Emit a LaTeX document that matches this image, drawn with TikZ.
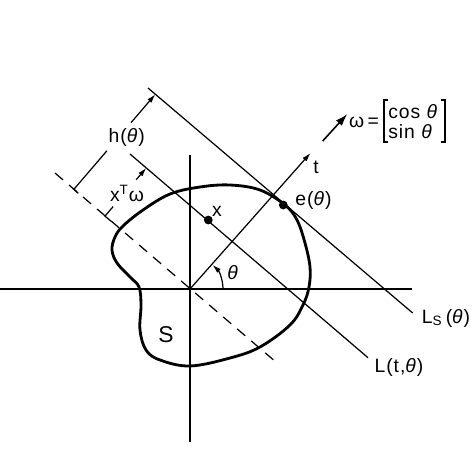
\documentclass[tikz,border=0pt]{standalone}
\usepackage{fontspec}
\setmainfont[LetterSpace=5]{Liberation Sans}
\usetikzlibrary{arrows.meta}
\tikzset{
  thin line/.style={line width=0.7pt},
  body/.style={line width=1.6pt, line join=round},
  dashline/.style={line width=0.7pt, dash pattern=on 6pt off 4.5pt},
  dimarrow/.style={line width=0.7pt, -{Latex[length=5pt,width=3pt]}},
  bigarrow/.style={line width=0.9pt, -{Latex[length=7pt,width=4.5pt]}},
  lbl/.style={inner sep=0pt, font=\fontsize{11}{13}\selectfont},
  dot/.style={circle, fill=black, inner sep=0pt, minimum size=5pt},
}
\begin{document}
\begin{tikzpicture}[x=0.02cm, y=-0.02cm]
\useasboundingbox (0,0) rectangle (474,474);
% coordinates
\coordinate (O) at (190,289);
\coordinate (hxL) at (0,289);   \coordinate (hxR) at (412,289);
\coordinate (vyT) at (190,155); \coordinate (vyB) at (190,442);
\coordinate (D1) at (55,173);   \coordinate (D2) at (276.7,362.7);
\coordinate (L1) at (130,154);  \coordinate (L2) at (368,357.7);
\coordinate (S1) at (148,88);   \coordinate (S2) at (412.7,313);
\coordinate (T) at (310.5,153);
\coordinate (W1) at (322.7,141); \coordinate (W2) at (347.3,114);
% axes
\draw[thin line] (hxL) -- (hxR);
\draw[thin line] (vyT) -- (vyB);
% body S
\draw[body] plot[smooth cycle, tension=0.6] coordinates {
 (230,185) (260,190) (285,205) (297,220) (305,243) (310,267) (309,287)
 (303,305) (290,325) (260,347) (230,358) (190,366) (160,360) (146,350)
 (140,330) (141,305) (139,287) (130,277) (117,263) (112,250) (115,237)
 (123,226) (143,210) (170,194) (200,187)};
% lines
\draw[dashline] (D1) -- (D2);
\draw[thin line] (L1) -- (L2);
\draw[thin line] (S1) -- (S2);
\draw[dimarrow] (O) -- (T);
\draw[bigarrow] (W1) -- (W2);
% angle arc
\draw[dimarrow] (O) ++(0.66cm,0) arc[start angle=0, end angle=47, radius=0.66cm];
% dimension h(theta)
\coordinate (hF) at (73.8,189.4);
\coordinate (hE) at (106.9,150.8);
\coordinate (hA) at (131.1,122.6);
\coordinate (hT) at (155.3,94.3);
\draw[thin line] (hE) -- (hF) -- ++(4.5,3.9);
\draw[dimarrow] (hA) -- (hT);
% dimension x^T omega
\coordinate (xF) at (105,216.1);
\coordinate (xE) at (113.2,206.5);
\coordinate (xA) at (136.2,179.7);
\coordinate (xT) at (146.3,167.9);
\draw[thin line] (xE) -- (xF) -- ++(6,5.1);
\draw[dimarrow] (xA) -- (xT);
% dots
\node[dot] (xdot) at (208.3,220) {};
\node[dot] (edot) at (283.3,205) {};
% labels
\node[lbl] (lh) at (126.7,137) {h(\textit{θ})};
\node[lbl] (lxw) at (127,193) {x\textsuperscript{T}ω};
\node[lbl] (lx) at (217,211) {x};
\node[lbl] (lt) at (316,167) {t};
\node[lbl] (le) at (313.5,200) {e(\textit{θ})};
\node[lbl] (lw) at (364,122) {ω\,=};
\node[lbl, anchor=west] (lcos) at (388,112) {cos \textit{θ}};
\node[lbl, anchor=west] (lsin) at (388,132) {sin \textit{θ}};
\draw[thin line] (388,100) -- (384,100) -- (384,142) -- (388,142);
\draw[thin line] (441,100) -- (445,100) -- (445,142) -- (441,142);
\node[lbl] (lth) at (233,273) {\textit{θ}};
\node[lbl] (lS) at (166,335) {\fontsize{13}{15}\selectfont S};
\node[lbl] (lLs) at (446,318) {L\textsubscript{S}\,(\textit{θ})};
\node[lbl] (lL) at (399,367) {L(t,\textit{θ})};
\end{tikzpicture}
\end{document}
